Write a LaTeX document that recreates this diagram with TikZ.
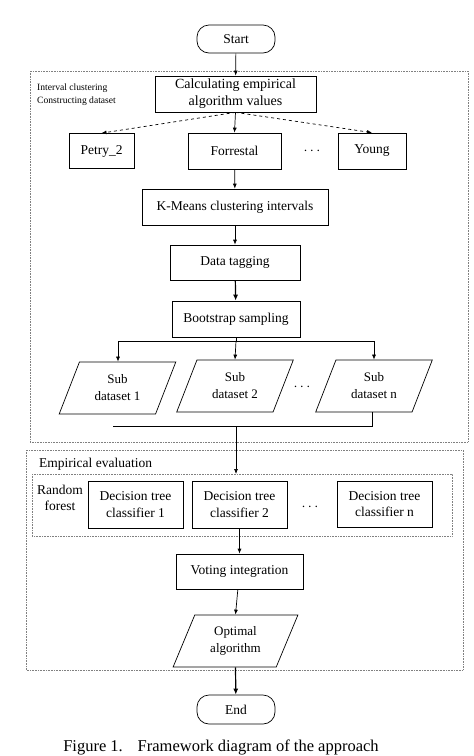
\documentclass[tikz,border=0pt]{standalone}
\usepackage{fontspec}
\setmainfont{Liberation Serif}
\usetikzlibrary{arrows.meta,shapes.geometric,calc}
\begin{document}
\begin{tikzpicture}[x=1pt,y=-1pt,
  box/.style={draw,line width=0.7pt,inner sep=0pt,align=center,font=\fontsize{13.5}{16.5}\selectfont},
  term/.style={box,rounded corners=12pt,minimum width=78pt,minimum height=28pt},
  para/.style={draw,line width=0.7pt,trapezium,trapezium left angle=65,trapezium right angle=115,trapezium stretches=true,inner sep=0pt,align=center,font=\fontsize{13}{17}\selectfont},
  arr/.style={-{Latex[length=5pt,width=4pt]},line width=0.7pt},
  thickarr/.style={-{Latex[length=6pt,width=5pt]},line width=1.2pt},
  frame/.style={draw=gray,densely dotted,line width=0.6pt},
  lbl/.style={inner sep=0pt,font=\fontsize{13.5}{16.5}\selectfont},
  small/.style={inner sep=0pt,align=left,font=\fontsize{9.6}{13}\selectfont}
]
\useasboundingbox (0,0) rectangle (474,756);
% frames
\draw[frame] (30,71) rectangle (468,442);
\draw[frame] (26,450) rectangle (463,670);
\draw[frame] (32,474) rectangle (452,536);
% labels
\node[small,anchor=west] (lab1) at (37,94.5) {Interval clustering\\Constructing dataset};
\node[lbl,anchor=west] (lab2) at (39,464) {Empirical evaluation};
\node[lbl,align=center] (lab3) at (60,498) {Random\\forest};
% nodes
\node[term] (start) at (236,39) {Start};
\node[box,minimum width=161pt,minimum height=36pt,font=\fontsize{14}{17}\selectfont] (calc) at (235.5,94) {Calculating empirical\\algorithm values};
\node[box,minimum width=65pt,minimum height=35pt] (petry) at (101.5,151) {Petry\_2};
\node[box,minimum width=93pt,minimum height=36pt] (forr) at (234.5,151) {Forrestal};
\node[lbl] (d1) at (312,151) {$\cdots$};
\node[box,minimum width=68pt,minimum height=36pt] (young) at (372,151) {Young};
\node[box,minimum width=186pt,minimum height=36pt] (kmeans) at (235,207) {K-Means clustering intervals};
\node[box,minimum width=130pt,minimum height=35pt] (tag) at (235,262.5) {Data tagging};
\node[box,minimum width=128pt,minimum height=36pt] (boot) at (236,319) {Bootstrap sampling};
\node[para,minimum width=117pt,minimum height=52pt] (sub1) at (117.5,388) {Sub\\dataset 1};
\node[para,minimum width=117pt,minimum height=52pt] (sub2) at (235,386) {Sub\\dataset 2};
\node[lbl] (d2) at (302,387) {$\cdots$};
\node[para,minimum width=117pt,minimum height=52pt] (subn) at (374,386) {Sub\\dataset n};
\node[box,minimum width=95pt,minimum height=47pt] (dt1) at (135.5,504.5) {Decision tree\\classifier 1};
\node[box,minimum width=95pt,minimum height=47pt] (dt2) at (239.5,504.5) {Decision tree\\classifier 2};
\node[lbl] (d3) at (310,507) {$\cdots$};
\node[box,minimum width=95pt,minimum height=46pt] (dtn) at (384.5,504) {Decision tree\\classifier n};
\node[box,minimum width=127pt,minimum height=35pt] (vote) at (239.5,571.5) {Voting integration};
\node[para,minimum width=125pt,minimum height=52pt] (opt) at (235.5,641) {Optimal\\algorithm};
\node[term,minimum height=29pt] (end) at (236,709.5) {End};
\node[inner sep=0pt,font=\fontsize{16.5}{18}\selectfont] (cap) at (221,747) {Figure 1.\hspace{0.9em}Framework diagram of the approach};
% coordinates
\coordinate (bsplit) at (236,341);
\coordinate (bl) at (118,341);
\coordinate (br) at (374,341);
\coordinate (ml) at (113,426);
\coordinate (mc) at (236,426);
\coordinate (mr) at (372,426);
\coordinate (rftop) at (236,474);
% connectors
\draw[arr] (start) -- (calc);
\draw[arr,dashed] (calc.south) -- (petry.north);
\draw[arr] (calc.south) -- (forr.north);
\draw[arr,dashed] (calc.south) -- (young.north);
\draw[arr] (forr) -- (kmeans);
\draw[arr] (kmeans) -- (tag);
\draw[thickarr] (tag) -- (boot);
\draw[line width=0.7pt] (boot.south) -- (bsplit);
\draw[line width=0.7pt] (bl) -- (br);
\draw[arr] (bl) -- (bl |- sub1.north);
\draw[arr] (bsplit) -- (sub2.north);
\draw[arr] (br) -- (br |- subn.north);
\draw[line width=0.7pt] (mr |- subn.south) -- (mr) -- (ml);
\draw[arr] (mc) -- (rftop);
\draw[arr] (dt2) -- (vote);
\draw[arr] (vote) -- (opt.north);
\draw[thickarr] (opt.south) -- (end);
\end{tikzpicture}
\end{document}
